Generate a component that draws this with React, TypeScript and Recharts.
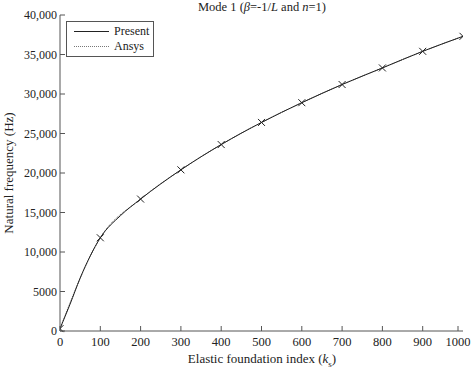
import React from 'react';
import { LineChart, Line, XAxis, YAxis } from 'recharts';

// Elastic foundation index (k_s)
const presentK = [0, 25, 50, 75, 100, 150, 200, 300, 400, 500, 600, 700, 800, 900, 1000];
const presentHz = [300, 3400, 6700, 9500, 11800, 14600, 16700, 20400, 23600, 26400, 28900, 31200, 33300, 35400, 37300];

const ansysK = [0, 100, 200, 300, 400, 500, 600, 700, 800, 900, 1000];
const ansysHz = [300, 11800, 16700, 20400, 23600, 26400, 28900, 31200, 33300, 35400, 37300];

const xTicks = [0, 100, 200, 300, 400, 500, 600, 700, 800, 900, 1000];
const yTicks = [0, 5000, 10000, 15000, 20000, 25000, 30000, 35000, 40000];

const presentData = presentK.map((k, i) => ({ k, present: presentHz[i] }));
const ansysData = ansysK.map((k, i) => ({ k, ansys: ansysHz[i] }));

const FONT = '"Liberation Serif", "DejaVu Serif", serif';
const INK = '#222';
const AXIS = '#555';

const fmtY = (v: number) => (v >= 10000 ? v.toLocaleString('en-US') : String(v));

const BottomTick = (props: any) => {
  const { x, y, payload } = props;
  return (
    <g>
      <line x1={x} x2={x} y1={y} y2={y - 5} stroke={AXIS} />
      <text x={x} y={y + 15} textAnchor="middle" fontSize={12.5} fontFamily={FONT} fill={INK}>
        {payload.value}
      </text>
    </g>
  );
};

const TopTick = (props: any) => {
  const { x, y } = props;
  return <line x1={x} x2={x} y1={y} y2={y + 5} stroke={AXIS} />;
};

const LeftTick = (props: any) => {
  const { x, y, payload } = props;
  return (
    <g>
      <line x1={x} x2={x + 5} y1={y} y2={y} stroke={AXIS} />
      <text x={x - 3} y={y + 4} textAnchor="end" fontSize={12} fontFamily={FONT} fill={INK}>
        {fmtY(payload.value)}
      </text>
    </g>
  );
};

const RightTick = (props: any) => {
  const { x, y } = props;
  return <line x1={x} x2={x - 5} y1={y} y2={y} stroke={AXIS} />;
};

const Cross = (props: any) => {
  const { cx, cy } = props;
  if (cx == null || cy == null) return null;
  const s = 3.5;
  return (
    <g>
      <line x1={cx - s} y1={cy - s} x2={cx + s} y2={cy + s} stroke={INK} strokeWidth={1} />
      <line x1={cx - s} y1={cy + s} x2={cx + s} y2={cy - s} stroke={INK} strokeWidth={1} />
    </g>
  );
};

export default function App() {
  return (
    <div style={{ position: 'absolute', left: 0, top: 0, width: 474, height: 371, background: '#fff', fontFamily: FONT, overflow: 'hidden' }}>
      <LineChart width={474} height={371} margin={{ top: 15, right: 11, bottom: 10, left: 0 }}>
        <XAxis
          xAxisId="bottom"
          dataKey="k"
          type="number"
          domain={[0, 1000]}
          ticks={xTicks}
          allowDataOverflow
          height={30}
          tickSize={0}
          tickMargin={0}
          tickLine={false}
          tick={<BottomTick />}
          stroke={AXIS}
        />
        <XAxis
          xAxisId="top"
          orientation="top"
          dataKey="k"
          type="number"
          domain={[0, 1000]}
          ticks={xTicks}
          height={0}
          tickSize={0}
          tickMargin={0}
          tickLine={false}
          tick={<TopTick />}
          stroke={AXIS}
        />
        <YAxis
          yAxisId="left"
          type="number"
          domain={[0, 40000]}
          ticks={yTicks}
          width={60}
          tickSize={0}
          tickMargin={0}
          tickLine={false}
          tick={<LeftTick />}
          stroke={AXIS}
        />
        <YAxis
          yAxisId="right"
          orientation="right"
          type="number"
          domain={[0, 40000]}
          ticks={yTicks}
          width={0}
          tickSize={0}
          tickMargin={0}
          tickLine={false}
          tick={<RightTick />}
          stroke={AXIS}
        />
        <Line
          xAxisId="bottom"
          yAxisId="left"
          data={presentData}
          dataKey="present"
          type="monotone"
          stroke={INK}
          strokeWidth={1}
          dot={false}
          isAnimationActive={false}
        />
        <Line
          xAxisId="bottom"
          yAxisId="left"
          data={ansysData}
          dataKey="ansys"
          type="monotone"
          stroke={INK}
          strokeWidth={0.8}
          strokeDasharray="1 1"
          dot={<Cross />}
          isAnimationActive={false}
        />
      </LineChart>

      {/* title */}
      <div style={{ position: 'absolute', left: 62, width: 400, top: 1, lineHeight: '13px', textAlign: 'center', fontSize: 12.5, color: INK, whiteSpace: 'nowrap' }}>
        Mode 1 (<i>β</i>=-1/<i>L</i> and <i>n</i>=1)
      </div>

      {/* x label */}
      <div style={{ position: 'absolute', left: 62, width: 400, top: 351, textAlign: 'center', fontSize: 13, color: INK, whiteSpace: 'nowrap' }}>
        Elastic foundation index (<i>k</i><sub style={{ fontSize: 9 }}>s</sub>)
      </div>

      {/* y label */}
      <div
        style={{
          position: 'absolute',
          left: 9,
          top: 173,
          transform: 'translate(-50%, -50%) rotate(-90deg)',
          fontSize: 13,
          color: INK,
          whiteSpace: 'nowrap',
        }}
      >
        Natural frequency (Hz)
      </div>

      {/* legend */}
      <div style={{ position: 'absolute', left: 66, top: 21, width: 88, height: 36, border: `1px solid ${AXIS}`, background: '#fff', boxSizing: 'border-box', fontSize: 12, color: INK }}>
        <div style={{ position: 'absolute', left: 7, top: 9, width: 35, borderTop: `1px solid ${INK}` }} />
        <div style={{ position: 'absolute', left: 47, top: 1, lineHeight: '16px' }}>Present</div>
        <div style={{ position: 'absolute', left: 7, top: 24, width: 35, borderTop: `1px dotted #777` }} />
        <div style={{ position: 'absolute', left: 47, top: 16, lineHeight: '16px' }}>Ansys</div>
      </div>
    </div>
  );
}
